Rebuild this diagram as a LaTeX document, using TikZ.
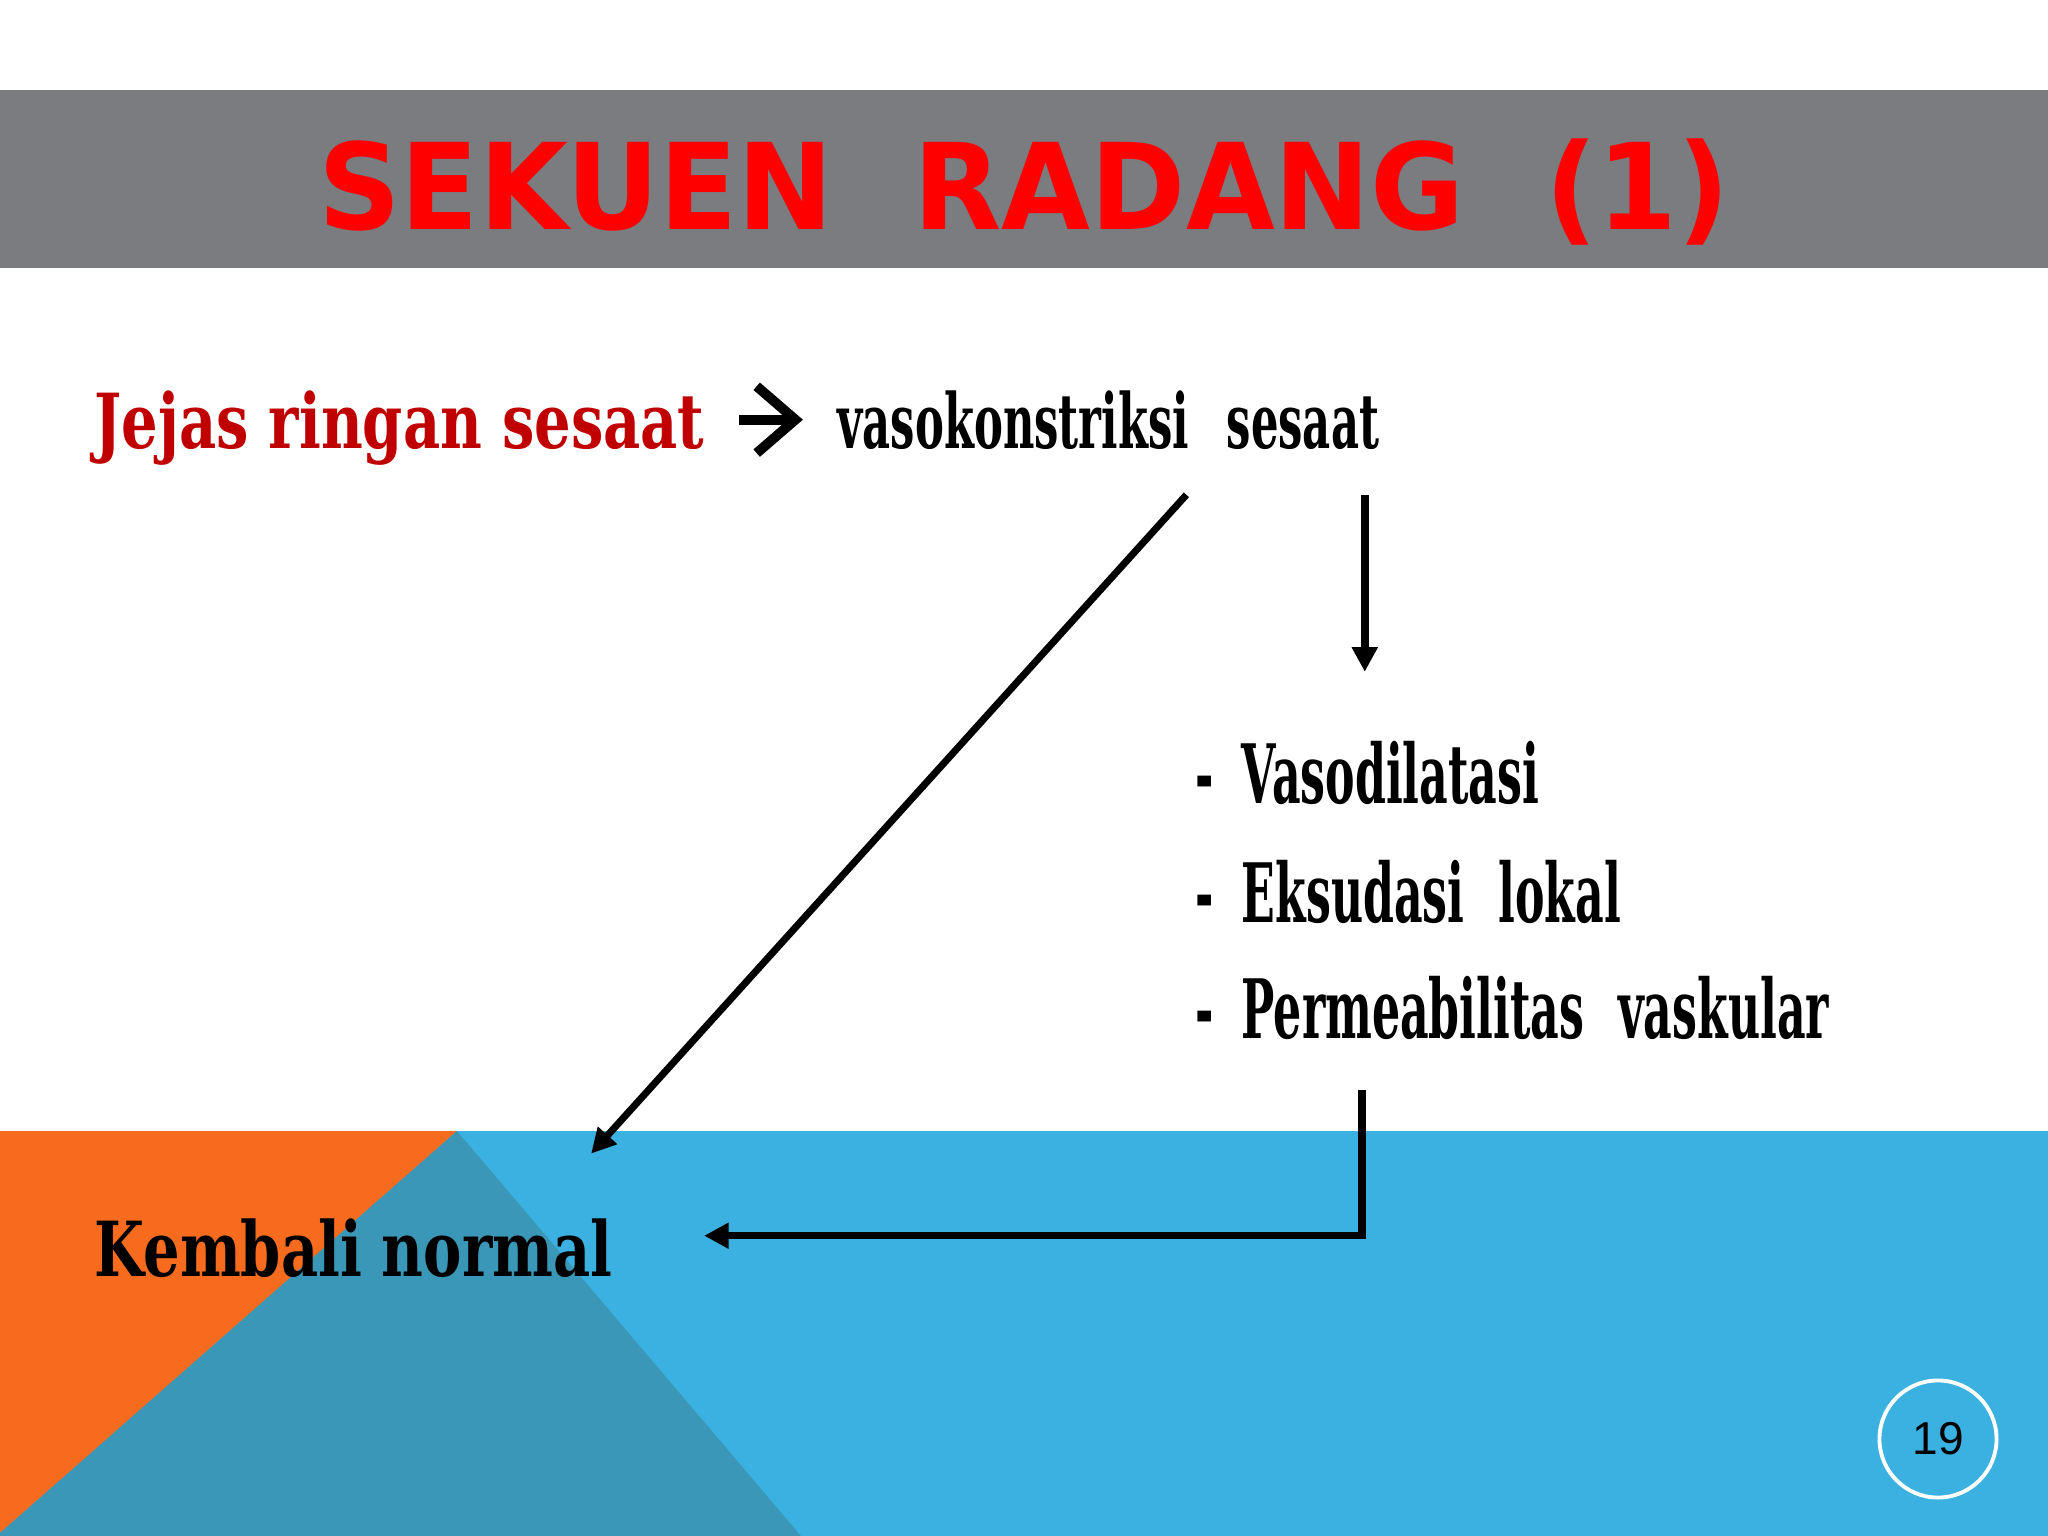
\documentclass[tikz,border=0pt]{standalone}
\usepackage{fontspec}
\usetikzlibrary{arrows.meta,calc}

\setsansfont{Liberation Sans}
\newfontfamily\titlefont[FakeStretch=0.96]{DejaVu Sans}
\newfontfamily\heavyslab[FakeStretch=0.757]{DejaVu Serif}
\newfontfamily\narrowslab[FakeStretch=0.57, WordSpace=2.5]{DejaVu Serif}
\newfontfamily\itemslab[FakeStretch=0.54, WordSpace=2.2]{DejaVu Serif}

\definecolor{bandgray}{RGB}{122,124,128}
\definecolor{titlered}{RGB}{255,0,0}
\definecolor{jejasred}{RGB}{192,0,0}
\definecolor{slideblue}{RGB}{58,177,224}
\definecolor{slideteal}{RGB}{58,151,183}
\definecolor{slideorange}{RGB}{247,107,30}

\tikzstyle{txt}=[inner sep=0pt, anchor=base west]
\tikzstyle{arrow}=[line width=2.2pt, -{Triangle[length=7pt,width=7pt]}]
\tikzstyle{chevron}=[line width=2.8pt, -{Straight Barb[length=11pt,width=19pt]}]

\begin{document}
\begin{tikzpicture}[x=0.01cm, y=-0.01cm]
    \useasboundingbox (0,0) rectangle (2048,1536);
    \fill[white] (0,0) rectangle (2048,1536);
    \fill[bandgray] (0,90) rectangle (2048,268);
    \fill[slideblue] (0,1131) rectangle (2048,1536);
    \fill[slideorange] (0,1131) -- (457,1131) -- (0,1533) -- cycle;
    \fill[slideteal] (457,1131) -- (801,1536) -- (0,1536) -- (0,1533) -- cycle;

    \node[txt, anchor=base, text=titlered, font=\titlefont\bfseries\fontsize{34}{40}\selectfont] (title) at (1024,229) {SEKUEN\ \ RADANG\ \ (1)};
    \node[txt, text=jejasred, font=\heavyslab\bfseries\fontsize{21.6}{26}\selectfont] (jejas) at (94,448) {Jejas ringan sesaat};
    \node[txt, font=\narrowslab\bfseries\fontsize{21.6}{26}\selectfont] (vaso) at (837,448) {vasokonstriksi sesaat};
    \node[txt, font=\itemslab\bfseries\fontsize{23.3}{28}\selectfont] (vasodil) at (1195,803) {\makebox[13.1pt][l]{-}Vasodilatasi};
    \node[txt, font=\itemslab\bfseries\fontsize{23.3}{28}\selectfont] (eksudasi) at (1195,922) {\makebox[13.1pt][l]{-}Eksudasi lokal};
    \node[txt, font=\itemslab\bfseries\fontsize{23.3}{28}\selectfont] (permeab) at (1195,1038) {\makebox[13.1pt][l]{-}Permeabilitas vaskular};
    \node[txt, font=\heavyslab\bfseries\fontsize{21.6}{26}\selectfont] (kembali) at (94,1276) {Kembali normal};
    \node[circle, draw=white, line width=1.1pt, minimum size=33.3pt, inner sep=0pt, font=\sffamily\fontsize{13.1}{15}\selectfont] (page) at (1938,1439) {19};

    \draw[chevron, shorten <=9.7pt, shorten >=9.7pt] (jejas.east |- vaso.west) -- (vaso.west);
    \draw[arrow] ($(vaso.south east)+(-15,45)$) -- ++(0,177);
    \draw[arrow, line width=2pt] ($(vaso.south)+(78,45)$) -- ($(kembali.north east)+(-22,-64)$);
    \draw[arrow, line width=2pt] ($(permeab.south west)+(167,50)$) |- ($(kembali.east)+(91,-12)$);
\end{tikzpicture}
\end{document}
